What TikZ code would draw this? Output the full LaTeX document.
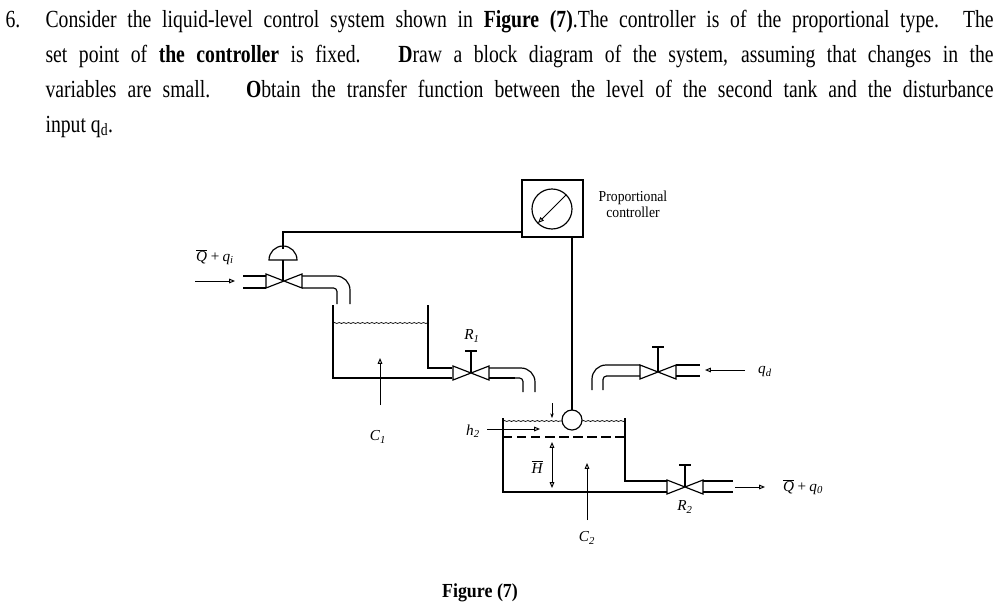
\documentclass[tikz,border=0pt]{standalone}
\usepackage{fontspec}
\setmainfont{Liberation Serif}
\usetikzlibrary{arrows.meta,decorations.pathmorphing}
\newcommand{\Qb}{$\overline{\textit{Q}}$}
\begin{document}
\begin{tikzpicture}[x=0.03cm,y=-0.03cm,line width=1pt,
  oa/.style={-{Triangle[open,length=5pt,width=4pt]},line width=0.8pt},
  valve/.pic={\draw[line width=1pt] (-18,-7)--(-18,7)--(0,0)--cycle (18,-7)--(18,7)--(0,0)--cycle;},
  lbl/.style={font=\itshape\fontsize{13}{13}\selectfont,inner sep=0pt},
  wave/.style={decorate,decoration={snake,amplitude=0.4pt,segment length=4pt},line width=0.6pt},
  tl/.style={anchor=base west,inner sep=0pt,font=\fontsize{21}{21}\selectfont}]
\useasboundingbox (0,0) rectangle (997,611);
% text
\node[tl] (n6) at (5,27) {\scalebox{0.8}[1]{6.}};
\node[tl] (l1) at (45,27) {\scalebox{0.8}[1]{\makebox[35.55cm][s]{Consider the liquid-level control system shown in \textbf{Figure (7)}.The controller is of the proportional type. The}}};
\node[tl] (l2) at (45,62) {\scalebox{0.8}[1]{\makebox[35.55cm][s]{set point of \textbf{the controller} is fixed. \ \textbf{D}raw a block diagram of the system, assuming that changes in the}}};
\node[tl] (l3) at (45,97) {\scalebox{0.8}[1]{\makebox[35.55cm][s]{variables are small. \ \textbf{O}btain the transfer function between the level of the second tank and the disturbance}}};
\node[tl] (l4) at (45,132) {\scalebox{0.8}[1]{input q\textsubscript{d}.}};
% controller
\draw (522,180) rectangle (583,237);
\draw (552,209) circle (20);
\draw[oa] (566,195) -- (538,223);
\node[font=\fontsize{13}{14}\selectfont,align=center,inner sep=0pt] (pc) at (633,204) {\scalebox{0.9}[1]{Proportional}\\\scalebox{0.9}[1]{controller}};
\draw (522,232) -- (283,232) -- (283,249);
\draw (269,260) arc (180:360:14) -- cycle;
\draw (283,260) -- (283,281);
\pic at (284,281) {valve};
\draw (243,276)--(266,276) (243,288)--(266,288);
\draw[rounded corners=12] (302,276)--(350,276)--(350,304);
\draw[rounded corners=3] (302,288)--(337,288)--(337,304);
\draw[oa] (195,281) -- (235,281);
\node[lbl] at (215,257) {\Qb\,+\,\textit{q\textsubscript{i}}};
% tank 1
\draw (333,305)--(333,378)--(452,378);
\draw (428,305)--(428,368)--(452,368);
\draw[wave] (333,323)--(428,323);
\pic at (471,373) {valve};
\draw (471,373)--(471,351) (465,351)--(477,351);
\node[lbl] at (472,336) {R\textsubscript{1}};
\draw (489,378)--(515,378);
\draw[rounded corners=12] (489,368)--(535,368)--(535,392);
\draw[rounded corners=3] (510,378)--(523,378)--(523,392);
\draw[oa] (380,405) -- (380,358);
\node[lbl] at (378,437) {C\textsubscript{1}};
% controller line and float
\draw (572,237) -- (572,410);
\draw (572,420) circle (10);
% tank 2
\draw (503,418)--(503,492)--(667,492);
\draw (625,418)--(625,481)--(667,481);
\draw[wave] (503,421)--(562,421);
\draw[wave] (582,421)--(625,421);
\draw[dashed,dash pattern=on 8pt off 4pt] (503,437)--(625,437);
\draw[oa] (487,429) -- (540,429);
\node[lbl] at (473,431) {h\textsubscript{2}};
\draw[-{Stealth[length=4pt]},line width=0.6pt] (552,403) -- (552,418);
\draw[{Triangle[open,length=5pt,width=4pt]}-{Triangle[open,length=5pt,width=4pt]},line width=0.8pt] (552,442) -- (552,488);
\node[lbl] at (537,467) {$\overline{\textit{H}}$};
\draw[oa] (587,520) -- (587,463);
\node[lbl] at (587,538) {C\textsubscript{2}};
\pic at (685,487) {valve};
\draw (685,487)--(685,465) (679,465)--(691,465);
\node[lbl] at (685,507) {R\textsubscript{2}};
\draw (703,481)--(733,481) (703,492)--(733,492);
\draw[oa] (735,487) -- (765,487);
\node[lbl] at (803,487) {\Qb\,+\,\textit{q}\textsubscript{0}};
% disturbance inflow
\pic at (658,372) {valve};
\draw (658,372)--(658,347) (652,347)--(664,347);
\draw (676,365)--(700,365) (676,376)--(700,376);
\draw[rounded corners=12] (640,365)--(592,365)--(592,390);
\draw[rounded corners=3] (640,376)--(603,376)--(603,390);
\draw[oa] (745,370) -- (705,370);
\node[lbl] at (765,372) {q\textsubscript{d}};
\node[font=\bfseries\fontsize{17}{17}\selectfont,inner sep=0pt] (fig) at (480,593) {\scalebox{0.9}[1]{Figure (7)}};
\end{tikzpicture}
\end{document}
